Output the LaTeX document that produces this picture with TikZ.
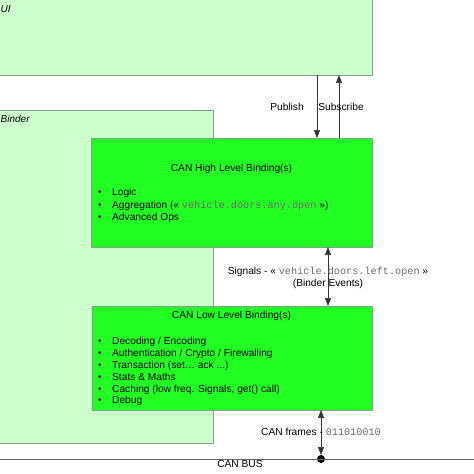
\documentclass[tikz,border=0pt]{standalone}
\usepackage{fontspec}
\setmainfont{Liberation Sans}
\setmonofont{Liberation Mono}
\usepackage{xcolor}
\definecolor{pale}{HTML}{CCFFCC}
\definecolor{bright}{HTML}{22FF22}
\definecolor{edge}{HTML}{809F90}
\definecolor{codegray}{HTML}{6A6A6A}
\usetikzlibrary{arrows.meta}
\newcommand{\mono}[1]{{\ttfamily\color{codegray}#1}}
\newcommand{\itm}[1]{\makebox[14pt][l]{\textbullet}#1}
\tikzset{
    layer/.style = {
      draw=edge,
      fill=pale,
      line width=0.8pt,
      anchor=north west,
      inner sep=0pt,
      outer sep=0pt
    },
    binding/.style = {
      draw=edge,
      fill=bright,
      line width=0.8pt,
      anchor=north west,
      inner sep=0pt,
      outer sep=0pt
    },
    caption/.style = {
      font=\itshape,
      anchor=west,
      inner sep=0pt
    },
    title/.style = {
      inner sep=0pt
    },
    items/.style = {
      anchor=north west,
      align=left,
      inner sep=0pt
    },
    flow/.style = {
      draw=black!80,
      line width=0.6pt,
      -{Triangle[length=8pt,width=6pt]}
    },
    both/.style = {
      flow,
      {Triangle[length=8pt,width=6pt]}-{Triangle[length=8pt,width=6pt]}
    },
    tap/.style = {
      circle,
      fill=black,
      minimum size=8pt,
      inner sep=0pt,
      outer sep=0pt
    },
    bus/.style = {
      draw=black!60,
      line width=0.8pt
    }
}

\begin{document}
\begin{tikzpicture}[x=1pt, y=-1pt, font=\fontsize{10.2}{12}\selectfont]
      \useasboundingbox (0,0) rectangle (474,474);

      % layers
      \node[layer, minimum width=377pt, minimum height=77pt]  (ui)     at (-5, -2)  {};
      \node[layer, minimum width=218pt, minimum height=333pt] (binder) at (-5, 110) {};
      \node[caption] (uilabel)     at (0.5, 9)   {UI};
      \node[caption] (binderlabel) at (0.5, 119) {Binder};

      % bindings
      \node[binding, minimum width=281pt, minimum height=109pt] (high) at (91, 138) {};
      \node[binding, minimum width=280pt, minimum height=104pt] (low)  at (92, 306) {};

      \node[title] (hightitle) at (231.5, 169) {CAN High Level Binding(s)};
      \node[items, font=\fontsize{10.2}{12.5}\selectfont] (highlist) at (98, 188.4)
        {\itm{Logic}\\
         \itm{Aggregation (« \mono{vehicle.doors.any.open} »)}\\
         \itm{Advanced Ops}};

      \node[title] (lowtitle) at (231.5, 316) {CAN Low Level Binding(s)};
      \node[items, font=\fontsize{10.2}{11.8}\selectfont] (lowlist) at (98, 337.4)
        {\itm{Decoding / Encoding}\\
         \itm{Authentication / Crypto / Firewalling}\\
         \itm{Transaction (set\dots{} ack ...)}\\
         \itm{Stats \& Maths}\\
         \itm{Caching (low freq. Signals, get() call)}\\
         \itm{Debug}};

      % connectors
      \coordinate (pub) at (317, 0);
      \coordinate (sub) at (339, 0);
      \coordinate (sig) at (328, 0);
      \coordinate (frm) at (321, 0);
      \coordinate (busL) at (0, 459);
      \coordinate (busR) at (474, 459);
      \node[tap] (busdot) at (321, 459) {};

      \draw[flow] (ui.south -| pub) -- (high.north -| pub);
      \draw[flow] (high.north -| sub) -- (ui.south -| sub);
      \draw[both] (high.south -| sig) -- (low.north -| sig);
      \draw[both] (low.south -| frm) -- (busdot);
      \draw[bus] (busL) -- (busR);

      \node (publish)   at (287, 107) {Publish};
      \node (subscribe) at (341, 107) {Subscribe};
      \node[align=center] (signals) at (328, 277.5)
        {Signals - « \mono{vehicle.doors.left.open} »\\(Binder Events)};
      \node (frames) at (321, 432) {CAN frames - \mono{011010010}};
      \node (canbus) at (240, 464) {CAN BUS};
    \end{tikzpicture}
\end{document}
